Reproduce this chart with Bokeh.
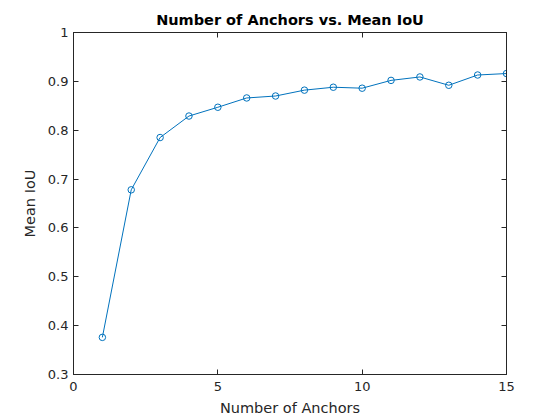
from bokeh.plotting import figure
from bokeh.models import Range1d, LinearAxis, FixedTicker, CustomJSTickFormatter
from bokeh.embed import file_html
from bokeh.resources import INLINE

anchors = [1, 2, 3, 4, 5, 6, 7, 8, 9, 10, 11, 12, 13, 14, 15]
mean_iou = [0.376, 0.678, 0.785, 0.829, 0.847, 0.866, 0.870, 0.882, 0.888,
            0.886, 0.902, 0.909, 0.892, 0.913, 0.916]
x_ticks = [0, 5, 10, 15]
y_ticks = [0.3, 0.4, 0.5, 0.6, 0.7, 0.8, 0.9, 1.0]

AX = "#262626"
BLUE = "#0072BD"
FONT = "DejaVu Sans"

p = figure(frame_width=433, frame_height=342, output_backend="svg",
           toolbar_location=None, title="Number of Anchors vs. Mean IoU",
           x_range=Range1d(0, 15), y_range=Range1d(0.3, 1.0),
           min_border_left=73, min_border_right=50,
           min_border_top=32, min_border_bottom=45)
p.background_fill_color = "white"
p.border_fill_color = "white"
p.outline_line_color = AX
p.outline_line_width = 1
p.grid.visible = False

p.title.align = "center"
p.title.text_font = FONT
p.title.text_font_size = "14.5px"
p.title.text_font_style = "bold"
p.title.text_color = "black"
p.title.standoff = 10

bottom = p.xaxis[0]
left = p.yaxis[0]

fmt = CustomJSTickFormatter(code="return tick.toFixed(1).replace(/\\.0$/, '');")
blank = CustomJSTickFormatter(code="return '';")

bottom.ticker = FixedTicker(ticks=x_ticks)
bottom.axis_label = "Number of Anchors"
left.ticker = FixedTicker(ticks=y_ticks)
left.formatter = fmt
left.axis_label = "Mean IoU"

top = LinearAxis(ticker=FixedTicker(ticks=x_ticks), formatter=blank,
                 major_label_standoff=0)
right = LinearAxis(ticker=FixedTicker(ticks=y_ticks), formatter=blank,
                   major_label_standoff=0)
p.add_layout(top, "above")
p.add_layout(right, "right")

for ax in [bottom, left, top, right]:
    ax.axis_line_color = AX
    ax.major_tick_line_color = AX
    ax.major_tick_in = 5
    ax.major_tick_out = 0
    ax.minor_tick_line_color = None
    ax.major_label_text_color = AX
    ax.major_label_text_font = FONT
    ax.axis_label_text_font = FONT
    ax.axis_label_text_color = AX
    ax.axis_label_text_font_style = "normal"

for ax in [bottom, left]:
    ax.major_label_text_font_size = "13px"
    ax.axis_label_text_font_size = "14.5px"
bottom.major_label_standoff = 7
bottom.axis_label_standoff = 6
left.major_label_standoff = 5
left.axis_label_standoff = 7

p.line(anchors, mean_iou, line_color=BLUE, line_width=1)
p.scatter(anchors, mean_iou, marker="circle", size=6.5, fill_color=None,
          line_color=BLUE, line_width=1)

open("out.html", "w").write(file_html(p, INLINE))
